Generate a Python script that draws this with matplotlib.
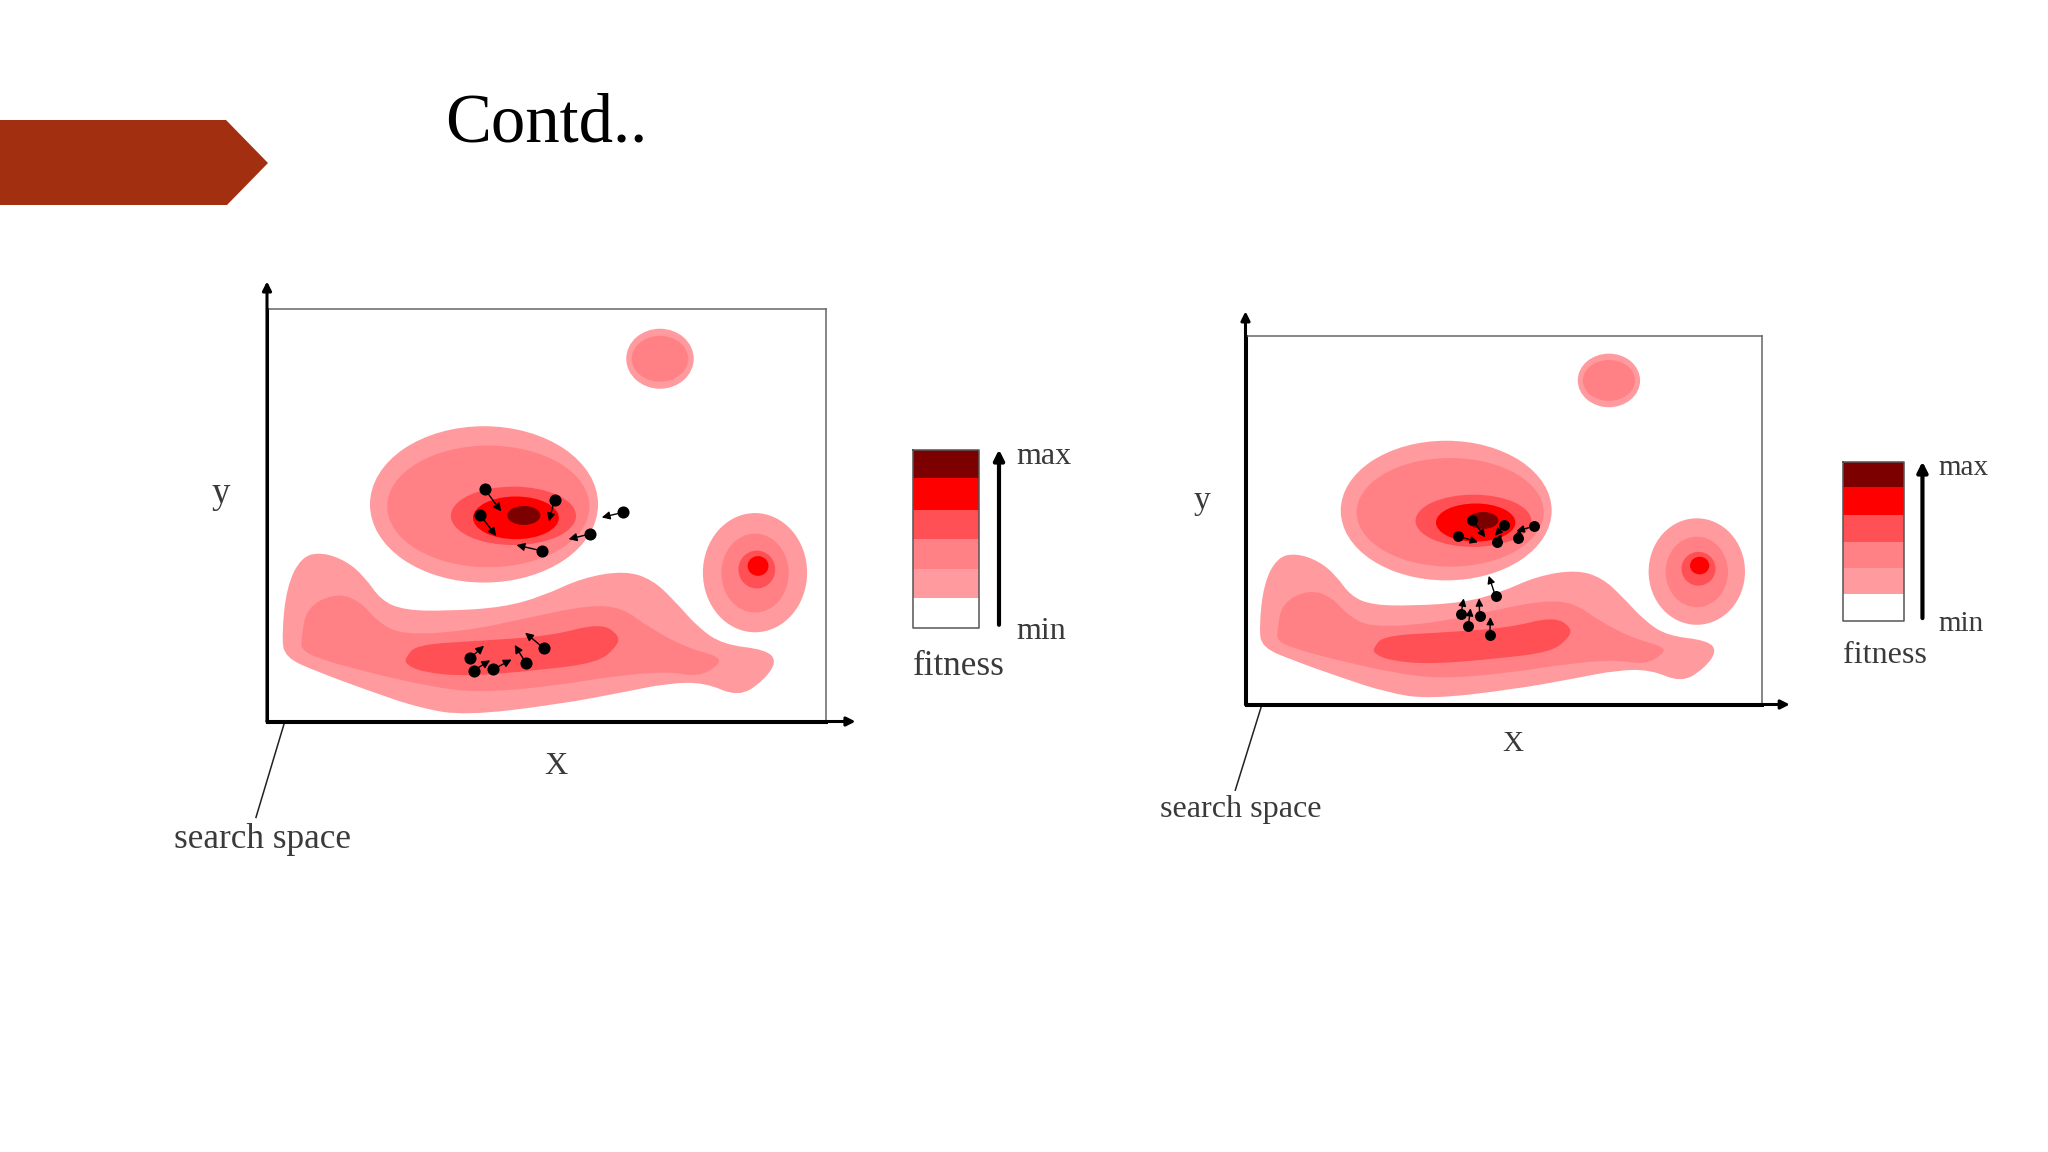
import numpy as np
import matplotlib
matplotlib.use("Agg")
import matplotlib.pyplot as plt
from matplotlib.patches import Ellipse, PathPatch, Polygon
from matplotlib.path import Path

FAINT, LIGHT, MID, RED, DARK = "#FF9A9E", "#FF8185", "#FF5055", "#FF0000", "#7D0000"

title = "Contd.."
banner_x = [0, 226, 268, 227, 0]
banner_y = [120, 120, 163, 205, 205]

# fitness landscape, search-space units (cx, cy, rx, ry, colour)
blobs = [
    (817, 248, 55, 76, FAINT), (817, 248, 46, 58, LIGHT),
    (530, 617, 186, 198, FAINT), (537, 622, 165, 154, LIGHT),
    (578, 646, 102, 74, MID), (582, 651, 70, 54, RED), (595, 645, 27, 24, DARK),
    (972, 790, 85, 151, FAINT), (972, 791, 55, 100, LIGHT),
    (975, 782, 30, 48, MID), (977, 773, 17, 25, RED),
]
band_outer_x = [200, 208, 232, 265, 305, 335, 362, 400, 470, 560, 625, 690, 760, 805, 840, 880, 920, 990, 1008, 985, 945, 890, 830, 760, 650, 500, 425, 340, 260, 205]
band_outer_y = [950, 825, 750, 738, 760, 800, 860, 885, 887, 878, 850, 803, 785, 808, 860, 930, 972, 985, 1015, 1065, 1105, 1068, 1070, 1092, 1124, 1152, 1133, 1088, 1042, 1005]
band_mid_x = [232, 240, 290, 330, 355, 395, 500, 600, 700, 755, 800, 860, 915, 912, 880, 830, 740, 640, 520, 440, 340, 260, 232]
band_mid_y = [960, 878, 840, 865, 912, 948, 938, 905, 872, 878, 930, 980, 1003, 1025, 1054, 1040, 1052, 1078, 1094, 1078, 1042, 1008, 985]
band_core_x = [402, 420, 520, 640, 720, 752, 745, 715, 620, 500, 430, 402]
band_core_y = [1005, 972, 963, 950, 917, 950, 980, 1018, 1037, 1053, 1042, 1022]

# particles (position and where the arrow points)
left_x = [531, 645, 524, 757, 703, 625, 628, 598, 507, 513, 545]
left_y = [578, 605, 645, 637, 692, 735, 982, 1018, 1007, 1038, 1035]
left_tip_x = [558, 636, 550, 722, 668, 583, 597, 580, 530, 540, 575]
left_tip_y = [635, 660, 697, 650, 705, 720, 942, 973, 975, 1012, 1010]
right_x = [576, 632, 551, 684, 657, 620, 617, 556, 589, 569, 607]
right_y = [643, 659, 689, 662, 696, 705, 860, 910, 916, 943, 969]
right_tip_x = [599, 616, 586, 654, 660, 628, 605, 561, 588, 573, 608]
right_tip_y = [693, 689, 707, 675, 668, 684, 802, 866, 866, 894, 919]

# colour key, from top to bottom
key_bottoms = [550, 630, 705, 780, 853, 930]
key_heights = [70, 80, 75, 75, 73, 77]
key_colors = [DARK, RED, MID, LIGHT, FAINT, "white"]


def smooth_closed(xs, ys):
    v = np.column_stack([xs, ys]).astype(float)
    m = (v + np.roll(v, -1, axis=0)) / 2
    verts, codes = [m[-1]], [Path.MOVETO]
    for i in range(len(v)):
        verts += [v[i], m[i]]
        codes += [Path.CURVE3, Path.CURVE3]
    return Path(verts, codes)


def draw_panel(fig, box, px, py, tx, ty, fs, ms, head):
    L, R, T, B = box
    ax = fig.add_axes([L / 2048, 1 - B / 1152, (R - L) / 2048, (B - T) / 1152])
    ax.set_xlim(176, 1087)
    ax.set_ylim(1167, 122)
    ax.set_xticks([])
    ax.set_yticks([])
    ax.patch.set_alpha(0)
    for s in ("top", "right"):
        ax.spines[s].set_color("#666666")
        ax.spines[s].set_linewidth(1.1)
    for s in ("left", "bottom"):
        ax.spines[s].set_color("black")
        ax.spines[s].set_linewidth(2.2)

    for path_x, path_y, c in [(band_outer_x, band_outer_y, FAINT),
                              (band_mid_x, band_mid_y, LIGHT),
                              (band_core_x, band_core_y, MID)]:
        ax.add_patch(PathPatch(smooth_closed(path_x, path_y), fc=c, ec="none", zorder=2))
    for cx, cy, rx, ry, c in blobs:
        ax.add_patch(Ellipse((cx, cy), 2 * rx, 2 * ry, fc=c, ec="none", zorder=3))

    ax.scatter(px, py, s=ms, c="black", zorder=6, linewidths=0)
    for x0, y0, x1, y1 in zip(px, py, tx, ty):
        ax.annotate("", xy=(x1, y1), xytext=(x0, y0), zorder=5,
                    arrowprops=dict(arrowstyle="-|>", color="black", lw=1.0,
                                    mutation_scale=head, shrinkA=0, shrinkB=0))

    # axis arrows
    ap = dict(arrowstyle="-|>", color="black", lw=2.2, mutation_scale=13, shrinkA=0, shrinkB=0)
    ax.annotate("", xy=(176, 52), xytext=(176, 1167), annotation_clip=False, arrowprops=ap)
    ax.annotate("", xy=(1136, 1167), xytext=(176, 1167), annotation_clip=False, arrowprops=ap)
    ax.annotate("", xy=(1370, 478), xytext=(1370, 922), annotation_clip=False,
                arrowprops=dict(arrowstyle="-|>", color="black", lw=3, mutation_scale=15, shrinkA=0, shrinkB=0))
    ax.plot([205, 158], [1167, 1410], color="#222222", lw=1.1, clip_on=False)

    # key
    ax.bar([1284] * 6, key_heights, width=108, bottom=[b - h for b, h in zip(key_bottoms, key_heights)],
           color=key_colors, clip_on=False, zorder=2)
    ax.plot([1230, 1338, 1338, 1230, 1230], [478, 478, 930, 930, 478], color="#555555", lw=1.1,
            clip_on=False, zorder=3)

    tk = dict(family="Liberation Serif", color="#3A3A3A", clip_on=False)
    ax.text(100, 590, "y", fontsize=fs * 1.15, ha="center", va="center", **tk)
    ax.text(648, 1280, "X", fontsize=fs * 1.0, ha="center", va="center", **tk)
    ax.text(168, 1465, "search space", fontsize=fs * 1.1, ha="center", va="center", **tk)
    ax.text(1398, 495, "max", fontsize=fs, ha="left", va="center", **tk)
    ax.text(1398, 940, "min", fontsize=fs, ha="left", va="center", **tk)
    ax.text(1230, 1028, "fitness", fontsize=fs * 1.1, ha="left", va="center", **tk)


fig = plt.figure(figsize=(20.48, 11.52), dpi=100, facecolor="white")
bg = fig.add_axes([0, 0, 1, 1])
bg.set_xlim(0, 2048)
bg.set_ylim(1152, 0)
bg.axis("off")
bg.add_patch(Polygon(np.column_stack([banner_x, banner_y]), closed=True, fc="#A23010", ec="none"))
bg.text(445, 141, title, family="Liberation Serif", fontsize=49.5, color="black", ha="left", va="baseline")

draw_panel(fig, (267, 825.5, 309, 721.5), left_x, left_y, left_tip_x, left_tip_y, 23, 76, 12)
draw_panel(fig, (1245.5, 1762, 336, 704.5), right_x, right_y, right_tip_x, right_tip_y, 21, 62, 11)

fig.savefig("out.png", dpi=100, facecolor="white")
